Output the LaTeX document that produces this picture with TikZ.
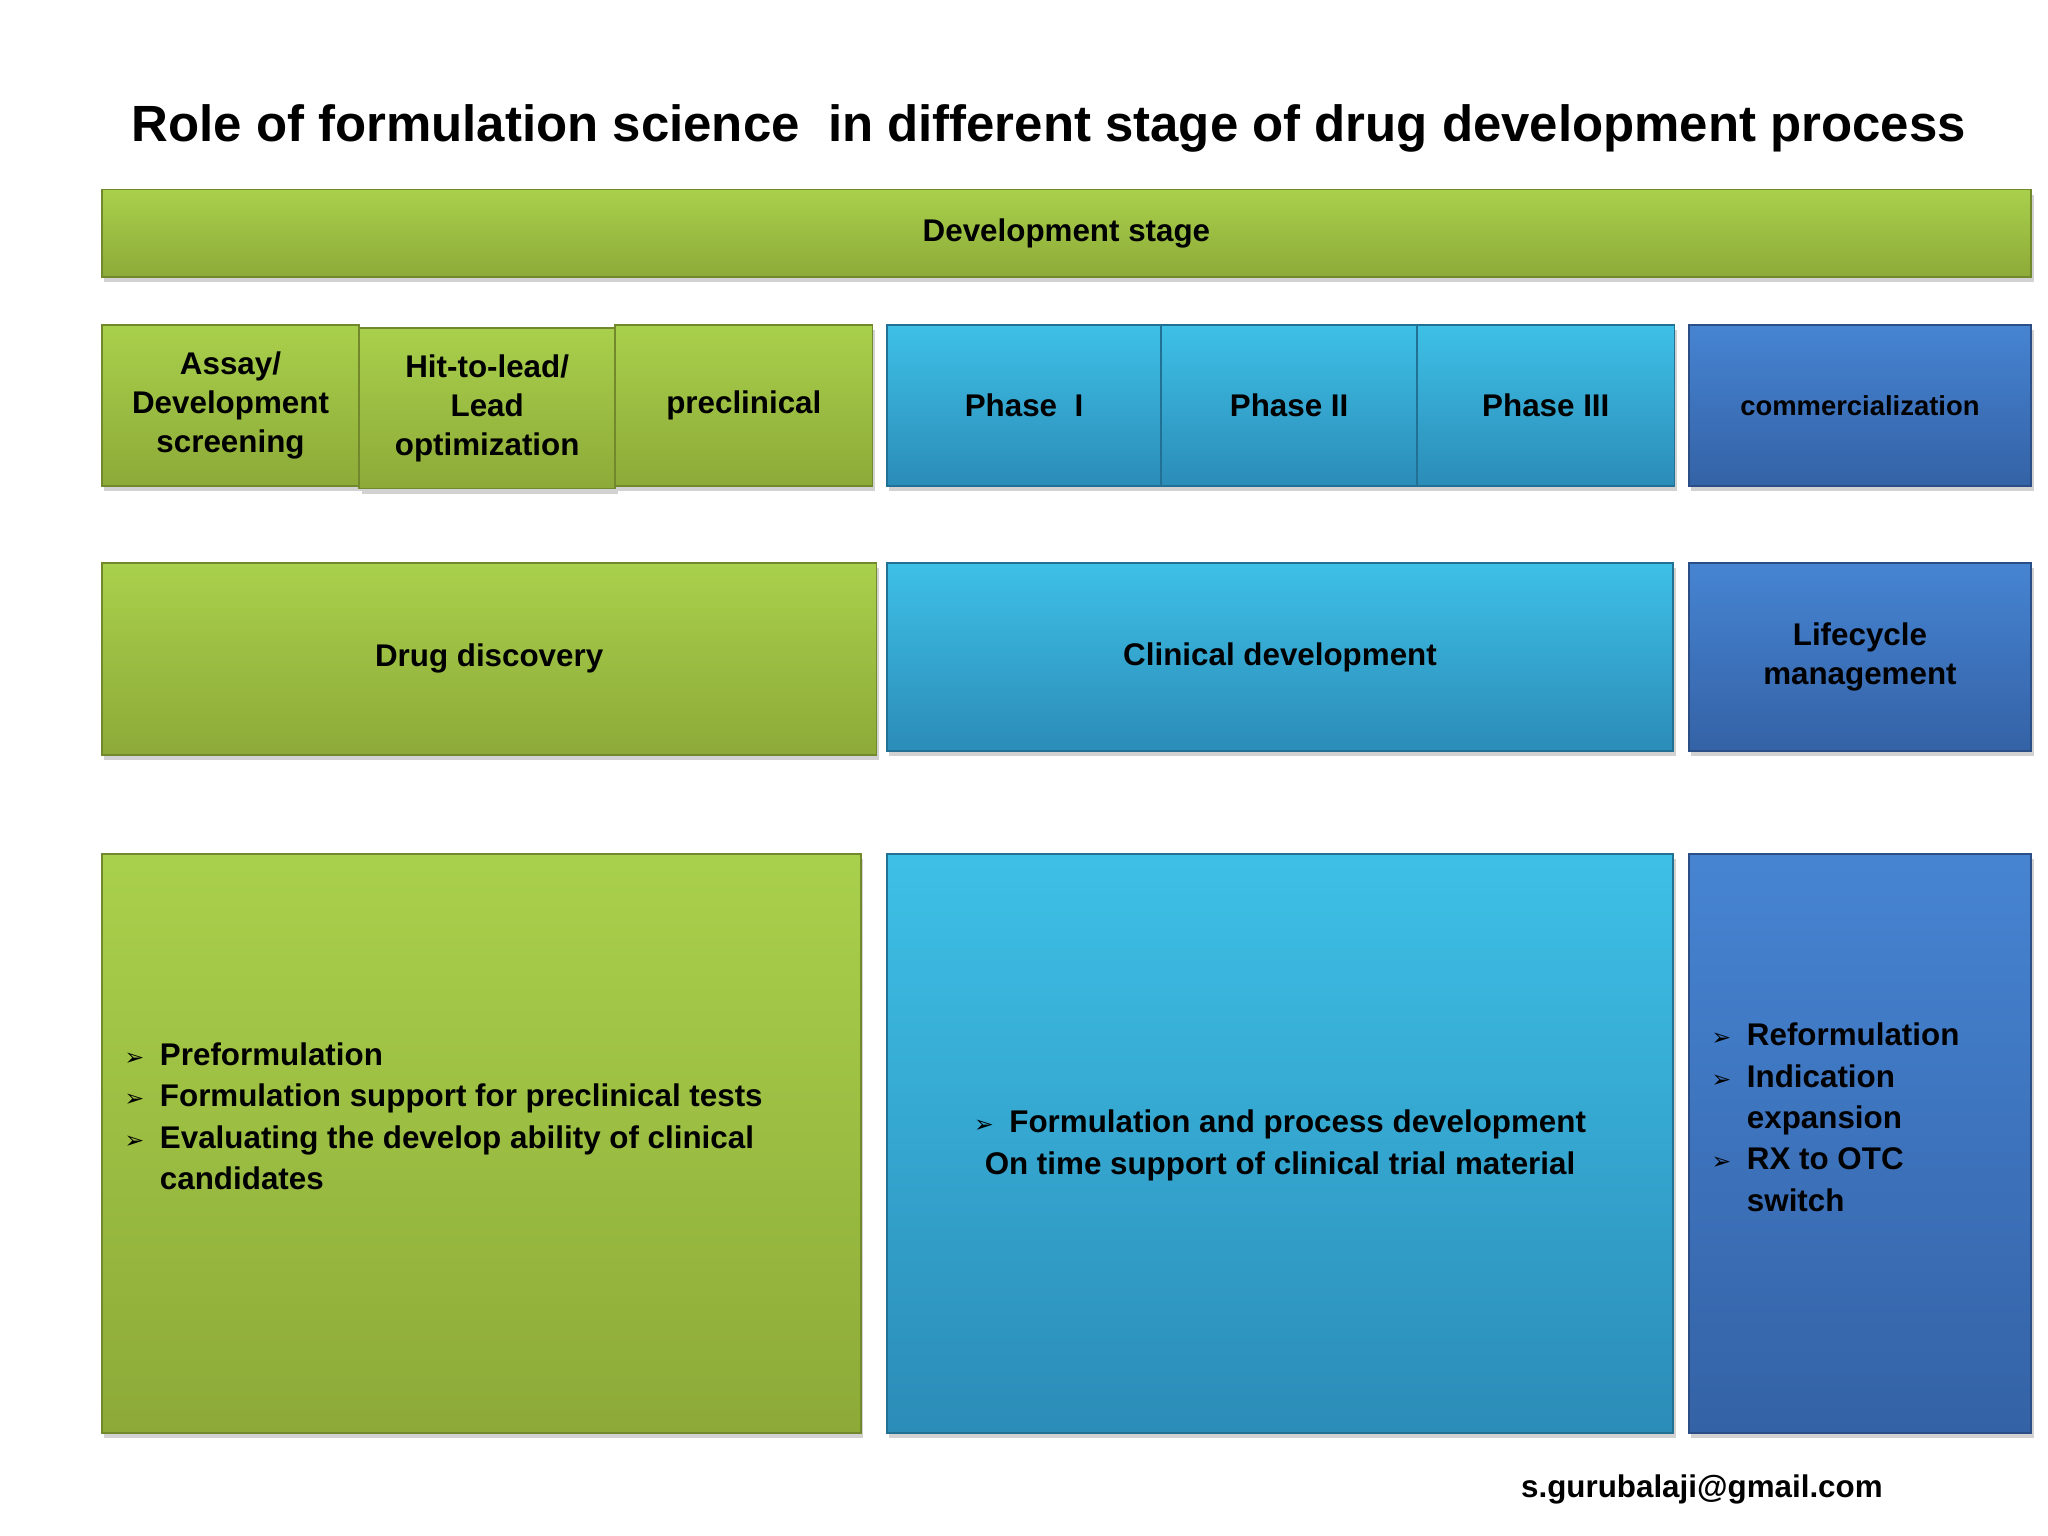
\documentclass[tikz,border=0pt]{standalone}
\usepackage{fontspec}
\setmainfont{Liberation Sans}
\newfontfamily\djvfont{DejaVu Sans}
\usetikzlibrary{shadows}
\newcommand\bul{{\djvfont\small ➢}\hspace{0.5em}}
\definecolor{gT}{HTML}{A9D04C}\definecolor{gB}{HTML}{8DAA38}
\definecolor{bT}{HTML}{3EC0E6}\definecolor{bB}{HTML}{2B8CB8}
\definecolor{dT}{HTML}{4684D2}\definecolor{dB}{HTML}{3462A6}
\tikzset{x=0.5pt,y=-0.5pt,
 base/.style={draw=#1!80!black,line width=0.6pt,drop shadow={shadow xshift=1pt,shadow yshift=-2pt,opacity=0.35},font=\bfseries\fontsize{12}{15}\selectfont,align=center,inner sep=2pt},
 gbox/.style={base=gB,top color=gT,bottom color=gB},
 bbox/.style={base=bB,top color=bT,bottom color=bB},
 dbox/.style={base=dB,top color=dT,bottom color=dB}}
\newcommand\bx[7]{\node[#1,minimum width={(#4-#3)*0.5pt},minimum height={(#6-#5)*0.5pt}] (#2) at ({(#3+#4)/2},{(#5+#6)/2}) {#7};}
\begin{document}
\begin{tikzpicture}
\useasboundingbox[fill=white] (0,0) rectangle (1568,1176);
\node[font=\bfseries\fontsize{19.5}{22}\selectfont] (title) at (803,98) {Role of formulation science\ \ in different stage of drug development process};
\bx{gbox}{dev}{78}{1555}{145}{212}{Development stage}
\bx{gbox}{assay}{78}{275}{249}{372}{Assay/\\Development\\screening}
\bx{gbox}{hit}{275}{471}{251}{374}{Hit-to-lead/\\Lead\\optimization}
\bx{gbox}{pre}{471}{668}{249}{372}{preclinical}
\bx{bbox}{p1}{679}{889}{249}{372}{Phase\ \ I}
\bx{bbox}{p2}{889}{1085}{249}{372}{Phase II}
\bx{bbox}{p3}{1085}{1282}{249}{372}{Phase III}
\bx{dbox}{com}{1293}{1555}{249}{372}{\fontsize{10.5}{13}\selectfont commercialization}
\bx{gbox}{dd}{78}{671}{431}{578}{Drug discovery}
\bx{bbox}{cd}{679}{1281}{431}{575}{Clinical development}
\bx{dbox}{lm}{1293}{1555}{431}{575}{Lifecycle\\management}
\bx{gbox}{g4}{78}{659}{654}{1097}{}
\bx{bbox}{b4}{679}{1281}{654}{1097}{}
\bx{dbox}{d4}{1293}{1555}{654}{1097}{}
\node[anchor=north west,align=left,font=\bfseries\fontsize{12}{15.8}\selectfont,inner sep=0] (t1) at (95,798) {\bul Preformulation\\\bul Formulation support for preclinical tests\\\bul Evaluating the develop ability of clinical\\\hphantom{\bul}candidates};
\node[align=center,font=\bfseries\fontsize{12}{15.8}\selectfont,inner sep=0] (t2) at (980,877) {\bul Formulation and process development\\On time support of clinical trial material};
\node[anchor=north west,align=left,font=\bfseries\fontsize{12}{15.8}\selectfont,inner sep=0] (t3) at (1310,783) {\bul Reformulation\\\bul Indication\\\hphantom{\bul}expansion\\\bul RX to OTC\\\hphantom{\bul}switch};
\node[font=\bfseries\fontsize{12}{15}\selectfont] (mail) at (1303,1140) {s.gurubalaji@gmail.com};
\end{tikzpicture}
\end{document}
